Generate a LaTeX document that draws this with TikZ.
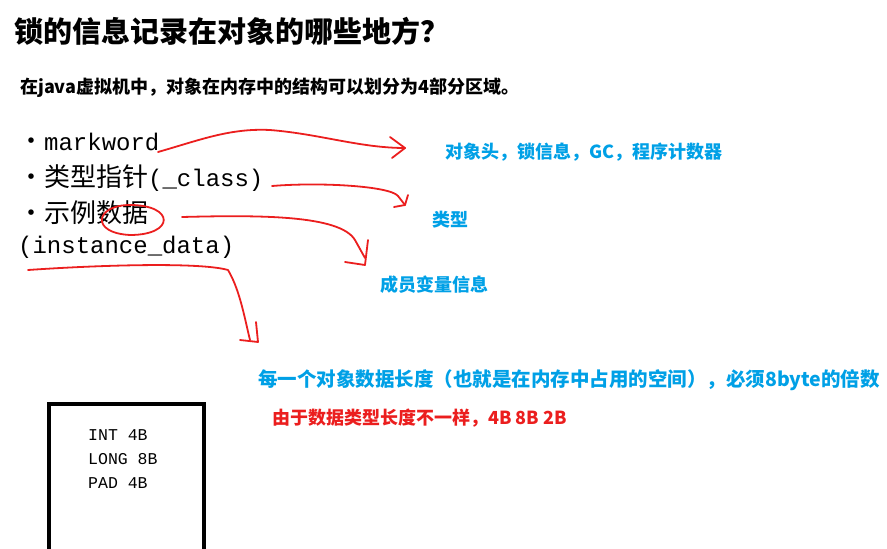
\documentclass[tikz,border=0pt]{standalone}
\usepackage{fontspec}
\setmainfont{Liberation Serif}
\newfontfamily\cjk{Noto Sans CJK SC}
\newfontfamily\cmono{Liberation Mono}
\definecolor{bl}{RGB}{0,160,230}
\definecolor{rd}{RGB}{235,30,30}
\begin{document}
\begin{tikzpicture}[x=1pt,y=-1pt,
  lbl/.style={anchor=west,inner sep=0pt},
  bt/.style={lbl,text=bl,font=\cjk\bfseries\fontsize{18}{18}\selectfont},
  lt/.style={lbl,font=\cjk\fontsize{26}{26}\selectfont},
  pen/.style={rd,line width=1.8pt,line cap=round,line join=round}]
\useasboundingbox (0,0) rectangle (887,549);
\node[lbl,font=\cjk\bfseries\fontsize{29}{29}\selectfont] (t) at (14,31) {锁的信息记录在对象的哪些地方？};
\node[lbl,font=\cjk\bfseries\fontsize{18}{18}\selectfont] (s) at (20,88) {在java虚拟机中，对象在内存中的结构可以划分为4部分区域。};
\node[lt] (l1) at (18,142) {•{\cmono\fontsize{24}{24}\selectfont markword}};
\node[lt] (l2) at (18,178) {•类型指针{\cmono\fontsize{24}{24}\selectfont (\_class)}};
\node[lt] (l3) at (18,213) {•示例数据};
\node[lbl,font=\cmono\fontsize{24}{24}\selectfont] (l4) at (18,247) {(instance\_data)};
\node[bt] (b1) at (445,152) {对象头，锁信息，GC，程序计数器};
\node[bt] (b2) at (432,220) {类型};
\node[bt] (b3) at (380,285) {成员变量信息};
\node[bt,font=\cjk\bfseries\fontsize{19.5}{19.5}\selectfont] (b4) at (258,380) {每一个对象数据长度（也就是在内存中占用的空间），必须8byte的倍数};
\node[lbl,text=rd,font=\cjk\bfseries\fontsize{18}{18}\selectfont] (r1) at (272,418) {由于数据类型长度不一样，4B 8B 2B};
\draw[line width=3.5pt] (49,560) -- (49,404) -- (204,404) -- (204,560);
\node[lbl,font=\cmono\fontsize{16.5}{16.5}\selectfont] (i1) at (88,435) {INT 4B};
\node[lbl,font=\cmono\fontsize{16.5}{16.5}\selectfont] (i2) at (88,459) {LONG 8B};
\node[lbl,font=\cmono\fontsize{16.5}{16.5}\selectfont] (i3) at (88,483) {PAD 4B};
% red pen strokes
\coordinate (a1) at (405,148);
\draw[pen] (158,152) .. controls (200,140) and (230,128) .. (270,130) .. controls (320,134) and (360,148) .. (a1);
\draw[pen] (390,137) -- (a1) -- (392,158);
\coordinate (a2) at (405,205);
\draw[pen] (272,186) .. controls (320,182) and (390,186) .. (398,196) -- (a2);
\draw[pen] (394,207) -- (a2) -- (408,195);
\draw[pen] (130,205) .. controls (175,205) and (175,235) .. (130,235) .. controls (90,233) and (95,205) .. (130,205);
\coordinate (a3) at (365,265);
\draw[pen] (182,217) .. controls (260,215) and (340,215) .. (355,240) -- (365,258);
\draw[pen] (345,262) -- (a3) -- (368,240);
\coordinate (a4) at (258,342);
\draw[pen] (28,270) .. controls (100,265) and (200,262) .. (228,270) .. controls (240,290) and (245,320) .. (250,340);
\draw[pen] (240,340) -- (a4) -- (256,322);
\end{tikzpicture}
\end{document}
